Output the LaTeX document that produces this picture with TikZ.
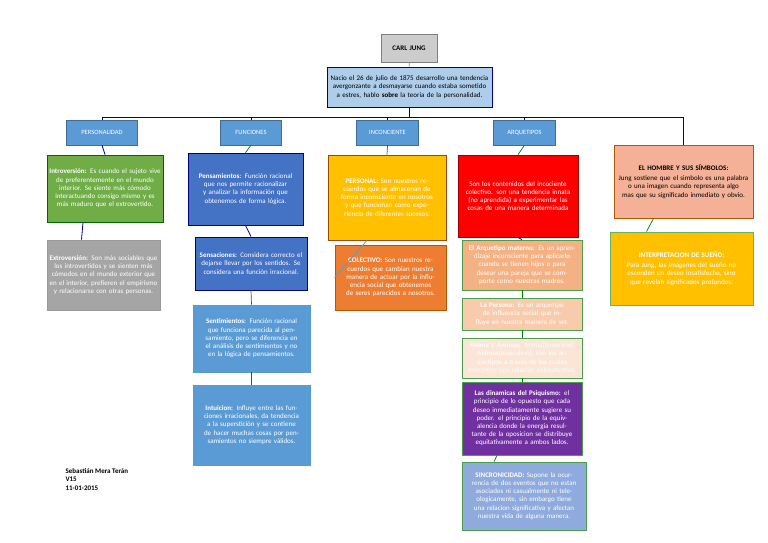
\documentclass[tikz,border=0pt]{standalone}
\usepackage{fontspec}
\setmainfont{Carlito}
\begin{document}
\begin{tikzpicture}[x=1pt,y=-1pt,
 bx/.style={draw=#1,line width=0.8pt,align=center,inner sep=2pt,font=\fontsize{7}{8.2}\selectfont},
 cat/.style={fill=catblue,draw=catblue!70!black,text=white,font=\fontsize{6.5}{8}\selectfont,align=center},
 wt/.style={text=white},
 ln/.style={draw=green!50!black,line width=0.7pt}]
\definecolor{catblue}{HTML}{5B9BD5}
\useasboundingbox (0,0) rectangle (768,543);
\fill[white] (0,0) rectangle (768,543);
\newcommand{\bxat}[7]{% name, x1,y1,x2,y2, style, text
 \node[#6,minimum width={#4-#2},minimum height={#5-#3},text width={#4-#2-4}] (#1) at ({(#2+#4)/2},{(#3+#5)/2}) {#7};}
\bxat{cj}{381}{34}{437}{62}{bx=gray,fill=gray!40}{\textbf{CARL JUNG}}
\bxat{nac}{327}{67}{492}{107}{bx=blue!60!black,fill=catblue!50}{Nacio el 26 de julio de 1875 desarrollo una tendencia avergonzante a desmayarse cuando estaba sometido a estres, hablo \textbf{sobre} la teoria de la personalidad.}
\bxat{per}{68}{120}{136}{145}{cat}{PERSONALIDAD}
\bxat{fun}{222}{120}{280}{145}{cat}{FUNCIONES}
\bxat{inc}{358}{120}{417}{145}{cat}{INCONCIENTE}
\bxat{arq}{495}{120}{554}{145}{cat}{ARQUETIPOS}
\bxat{intro}{47}{155}{163}{222}{bx=green!40!black,wt,fill={rgb,255:red,112;green,173;blue,71}}{\textbf{Introversión:} Es cuando el sujeto vive de preferentemente en el mundo interior. Se siente más cómodo interactuando consigo mismo y es más maduro que el extrovertido.}
\bxat{extro}{47}{240}{160}{310}{bx=gray!80,fill={rgb,255:red,165;green,165;blue,165},wt}{\textbf{Extroversión:} Son más sociables que los introvertidos y se sienten más cómodos en el mundo exterior que en el interior, prefieren el empirismo y relacionarse con otras personas.}
\bxat{pens}{188}{153}{303}{225}{bx=blue!50!black,fill={rgb,255:red,68;green,114;blue,196},wt}{\textbf{Pensamientos:} Función racional que nos permite racionalizar y analizar la información que obtenemos de forma lógica.}
\bxat{sens}{195}{237}{307}{290}{bx=blue!50!black,fill={rgb,255:red,68;green,114;blue,196},wt}{\textbf{Sensaciones:} Considera correcto el dejarse llevar por los sentidos. Se considera una función irracional.}
\bxat{sent}{193}{305}{310}{372}{bx=catblue,fill=catblue,wt}{\textbf{Sentimientos:} Función racional que funciona parecida al pensamiento, pero se diferencia en el análisis de sentimientos y no en la lógica de pensamientos.}
\bxat{intu}{193}{385}{310}{465}{bx=catblue,fill=catblue,wt}{\textbf{Intuicion:} Influye entre las funciones irracionales, da tendencia a la superstición y se contiene de hacer muchas cosas por pensamientos no siempre válidos.}
\bxat{pers}{328}{155}{446}{240}{bx=orange!60!black,fill={rgb,255:red,255;green,192;blue,0},wt}{\textbf{PERSONAL:} Son nuestros recuerdos que se almacenan de forma inconsciente en nosotros y que funcionan como experiencia de diferentes sucesos.}
\bxat{col}{335}{245}{446}{310}{bx=orange!70!black,fill={rgb,255:red,237;green,125;blue,49},wt}{\textbf{COLECTIVO:} Son nuestros recuerdos que cambian nuestra manera de actuar por la influencia social que obtenemos de seres parecidos a nosotros.}
\bxat{arqr}{458}{155}{578}{237}{bx=red!60!black,fill=red,wt}{Son los contenidos del incociente colectivo. son una tendencia innata (no aprendida) a experimentar las cosas de una manera determinada}
\bxat{mat}{462}{240}{582}{290}{bx=green!45!black!70,fill={rgb,255:red,244;green,177;blue,131},wt}{\textbf{El Arquetipo materno:} Es un aprendizaje inconsciente para aplicarlo cuando se tienen hijos o para desear una pareja que se comporte como nuestras madres.}
\bxat{lap}{462}{298}{582}{330}{bx=green!45!black!70,fill={rgb,255:red,248;green,203;blue,173},wt}{\textbf{La Persona:} Es un arquetipo de influencia social que influye en nuestra manera de ser.}
\bxat{ani}{462}{338}{582}{378}{bx=green!45!black!70,fill={rgb,255:red,251;green,229;blue,214},wt}{\textbf{Anima y Animus:} Anima(femenino) Animus(masculino), son los arquetipos a traves de los cuales buscamos una relación psicoafectiva.}
\bxat{din}{462}{382}{582}{455}{bx=green!45!black!70,fill={rgb,255:red,112;green,48;blue,160},wt}{\textbf{Las dinamicas del Psiquismo:} el principio de lo opuesto que cada deseo inmediatamente sugiere su poder. el principio de la equivalencia donde la energia resultante de la oposicion se distribuye equitativamente a ambos lados.}
\bxat{sin}{462}{462}{586}{530}{bx=green!45!black!70,fill={rgb,255:red,143;green,170;blue,220},wt}{\textbf{SINCRONICIDAD:} Supone la ocurrencia de dos eventos que no estan asociados ni casualmente ni teleologicamente, sin embargo tiene una relacion significativa y afectan nuestra vida de alguna manera.}
\bxat{hom}{614}{145}{753}{218}{bx=orange!70!black,fill={rgb,255:red,244;green,177;blue,152}}{\textbf{EL HOMBRE Y SUS SÍMBOLOS:}\\[2pt] Jung sostiene que el simbolo es una palabra o una imagen cuando representa algo mas que su significado inmediato y obvio.}
\bxat{intp}{610}{232}{753}{305}{bx=green!50!black!60,fill={rgb,255:red,255;green,192;blue,0},wt}{\textbf{INTERPRETACION DE SUEÑO:}\\[2pt] Para Jung, las imagenes del sueño no esconden un deseo insatisfecho, sino que revelan significados profundos.}
\node[anchor=north west,align=left,font=\fontsize{7}{8.5}\selectfont\bfseries] (aut) at (62,465) {Sebastián Mera Terán\\V15\\11-01-2015};
% connectors
\draw[catblue,line width=0.8pt] (cj) -- (nac);
\draw[blue!60!black,line width=0.8pt] (nac.south) -- ++(0,10) coordinate (h);
\draw[blue!60!black,line width=0.8pt] (per.north |- h) -- (683,0 |- h);
\foreach \n in {per,fun,inc,arq} \draw[blue!60!black,line width=0.8pt] (\n.north |- h) -- (\n.north);
\draw[blue!60!black,line width=0.8pt] (683,0 |- h) -- (683,145);
\draw[blue!60!black,line width=0.8pt] (per.south) -- (intro.north);
\draw[ln] (fun.south) -- (pens.north);
\draw[blue!60!black,line width=0.8pt] (extro.north) ++(-22,0) -- ([xshift=-22pt]intro.south);
\draw[blue!60!black,line width=0.8pt] (pens.south) -- (sens.north);
\draw[ln] (sens.south) -- (sent.north);
\draw[ln] (sent.south) -- (intu.north);
\draw[ln] (inc.south) -- (pers.north);
\draw[catblue,line width=0.8pt] ([xshift=-20pt]pers.south) -- (col.west);
\draw[ln] (arq.south) -- (arqr.north);
\draw[blue!60!black,line width=0.8pt] (arqr.south) -- (mat.north);
\draw[ln] (mat.south) -- (lap.north);
\draw[ln] (lap.south) -- (ani.north);
\draw[ln] (ani.south) -- (din.north);
\draw[ln] ([xshift=-25pt]din.south) -- ([xshift=-30pt]sin.north);
\draw[ln] ([xshift=-30pt]hom.south) -- ([xshift=-35pt]intp.north);
\end{tikzpicture}
\end{document}
